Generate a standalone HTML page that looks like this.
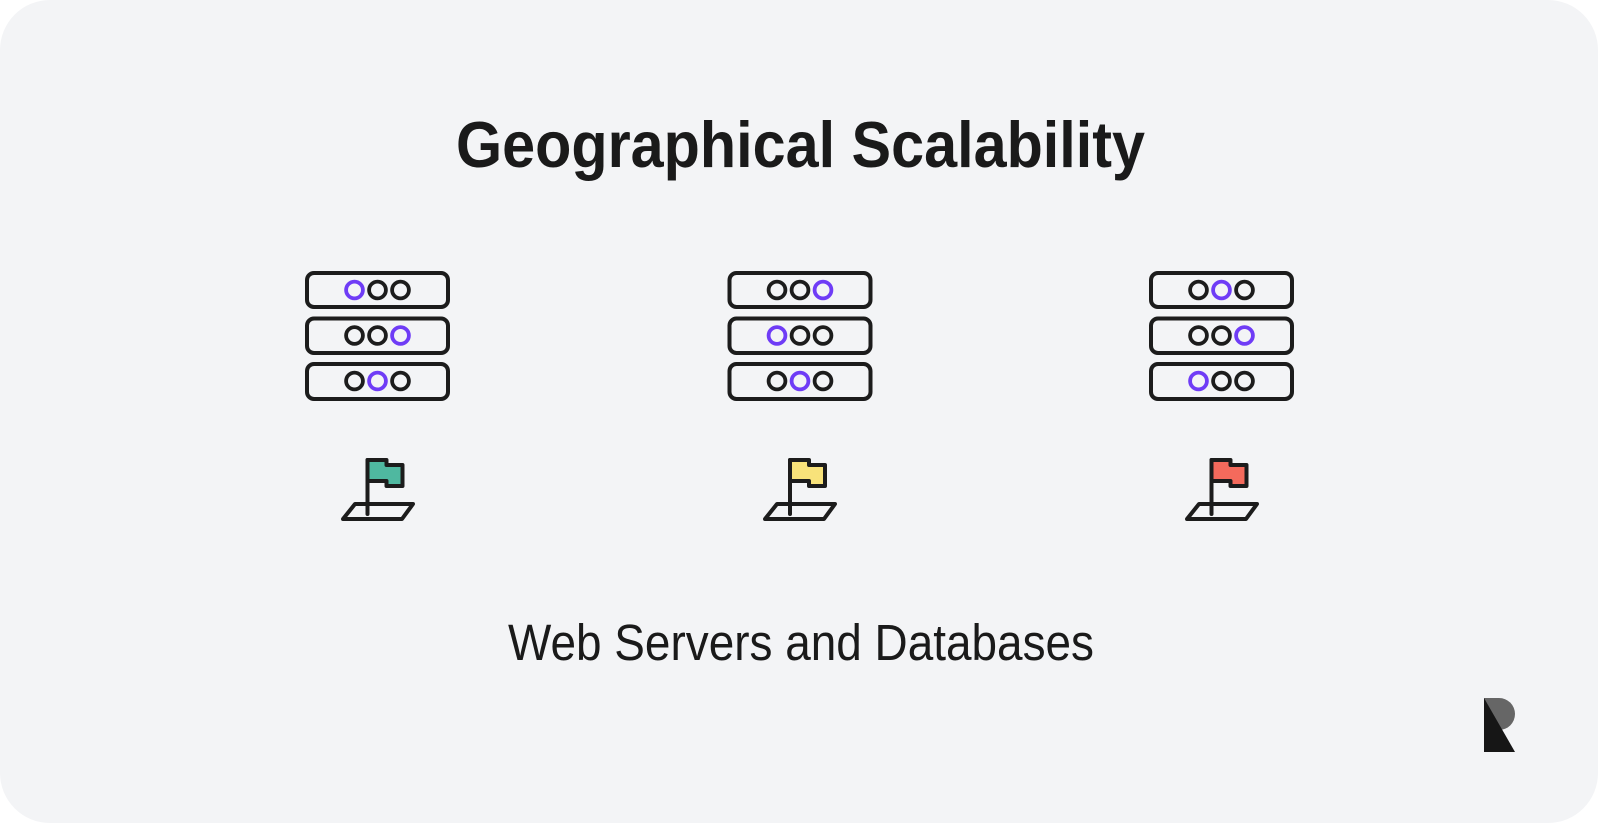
<!DOCTYPE html>
<html>
<head>
<meta charset="utf-8">
<style>
  html, body { margin: 0; padding: 0; background: #ffffff; }
  body { width: 1600px; height: 825px; overflow: hidden; }
  svg { display: block; }
</style>
</head>
<body>
<svg width="1600" height="825" viewBox="0 0 1600 825" xmlns="http://www.w3.org/2000/svg">
  <rect x="0" y="0" width="1600" height="825" fill="#ffffff"/>
  <rect x="0" y="0" width="1598" height="823" rx="50" ry="50" fill="#f3f4f6"/>

  <!-- Title -->
  <text x="456" y="167" font-family="Liberation Sans, Arial, sans-serif" font-weight="bold" font-size="65" fill="#1a1a1a" textLength="689" lengthAdjust="spacingAndGlyphs">Geographical Scalability</text>

  <!-- Subtitle -->
  <text x="508" y="660" font-family="Liberation Sans, Arial, sans-serif" font-size="51" fill="#1a1a1a" textLength="586" lengthAdjust="spacingAndGlyphs">Web Servers and Databases</text>

  <!-- Server 1 -->
  <g fill="none" stroke="#1c1c1c" stroke-width="4">
    <rect x="307" y="273" width="141" height="34" rx="7"/>
    <rect x="307" y="318.5" width="141" height="34.5" rx="7"/>
    <rect x="307" y="364" width="141" height="35" rx="7"/>
  </g>
  <g fill="none" stroke-width="3.8">
    <circle cx="354.5" cy="290" r="8.4" stroke="#6f3cf6"/>
    <circle cx="377.5" cy="290" r="8.4" stroke="#1c1c1c"/>
    <circle cx="400.5" cy="290" r="8.4" stroke="#1c1c1c"/>
    <circle cx="354.5" cy="335.5" r="8.4" stroke="#1c1c1c"/>
    <circle cx="377.5" cy="335.5" r="8.4" stroke="#1c1c1c"/>
    <circle cx="400.5" cy="335.5" r="8.4" stroke="#6f3cf6"/>
    <circle cx="354.5" cy="381" r="8.4" stroke="#1c1c1c"/>
    <circle cx="377.5" cy="381" r="8.4" stroke="#6f3cf6"/>
    <circle cx="400.5" cy="381" r="8.4" stroke="#1c1c1c"/>
  </g>

  <!-- Server 2 -->
  <g fill="none" stroke="#1c1c1c" stroke-width="4">
    <rect x="729.5" y="273" width="141" height="34" rx="7"/>
    <rect x="729.5" y="318.5" width="141" height="34.5" rx="7"/>
    <rect x="729.5" y="364" width="141" height="35" rx="7"/>
  </g>
  <g fill="none" stroke-width="3.8">
    <circle cx="777" cy="290" r="8.4" stroke="#1c1c1c"/>
    <circle cx="800" cy="290" r="8.4" stroke="#1c1c1c"/>
    <circle cx="823" cy="290" r="8.4" stroke="#6f3cf6"/>
    <circle cx="777" cy="335.5" r="8.4" stroke="#6f3cf6"/>
    <circle cx="800" cy="335.5" r="8.4" stroke="#1c1c1c"/>
    <circle cx="823" cy="335.5" r="8.4" stroke="#1c1c1c"/>
    <circle cx="777" cy="381" r="8.4" stroke="#1c1c1c"/>
    <circle cx="800" cy="381" r="8.4" stroke="#6f3cf6"/>
    <circle cx="823" cy="381" r="8.4" stroke="#1c1c1c"/>
  </g>

  <!-- Server 3 -->
  <g fill="none" stroke="#1c1c1c" stroke-width="4">
    <rect x="1151" y="273" width="141" height="34" rx="7"/>
    <rect x="1151" y="318.5" width="141" height="34.5" rx="7"/>
    <rect x="1151" y="364" width="141" height="35" rx="7"/>
  </g>
  <g fill="none" stroke-width="3.8">
    <circle cx="1198.5" cy="290" r="8.4" stroke="#1c1c1c"/>
    <circle cx="1221.5" cy="290" r="8.4" stroke="#6f3cf6"/>
    <circle cx="1244.5" cy="290" r="8.4" stroke="#1c1c1c"/>
    <circle cx="1198.5" cy="335.5" r="8.4" stroke="#1c1c1c"/>
    <circle cx="1221.5" cy="335.5" r="8.4" stroke="#1c1c1c"/>
    <circle cx="1244.5" cy="335.5" r="8.4" stroke="#6f3cf6"/>
    <circle cx="1198.5" cy="381" r="8.4" stroke="#6f3cf6"/>
    <circle cx="1221.5" cy="381" r="8.4" stroke="#1c1c1c"/>
    <circle cx="1244.5" cy="381" r="8.4" stroke="#1c1c1c"/>
  </g>

  <!-- Flags -->
  <g stroke="#1c1c1c" stroke-width="4" stroke-linejoin="round" stroke-linecap="round">
    <!-- Flag 1 teal, pole x=367.5 -->
    <polygon points="355,504 413,504 402,519 343,519" fill="none"/>
    <polygon points="367.5,460 386.5,460 386.5,465 402.5,465 402.5,486 386.5,486 386.5,481 367.5,481" fill="#4fb8a0"/>
    <line x1="367.5" y1="460" x2="367.5" y2="514"/>

    <!-- Flag 2 yellow, pole x=790 -->
    <polygon points="777,504 835,504 824,519 765,519" fill="none"/>
    <polygon points="790,460 809,460 809,465 825,465 825,486 809,486 809,481 790,481" fill="#f8e27a"/>
    <line x1="790" y1="460" x2="790" y2="514"/>

    <!-- Flag 3 red, pole x=1211.5 -->
    <polygon points="1199,504 1257,504 1246,519 1187,519" fill="none"/>
    <polygon points="1211.5,460 1230.5,460 1230.5,465 1246.5,465 1246.5,486 1230.5,486 1230.5,481 1211.5,481" fill="#f46a5c"/>
    <line x1="1211.5" y1="460" x2="1211.5" y2="514"/>
  </g>

  <!-- Logo -->
  <path d="M1484 698 H1499 A16 16 0 0 1 1499 730 H1484 Z" fill="#666666"/>
  <polygon points="1484,698 1484,752 1515,752" fill="#161616"/>
</svg>
</body>
</html>
